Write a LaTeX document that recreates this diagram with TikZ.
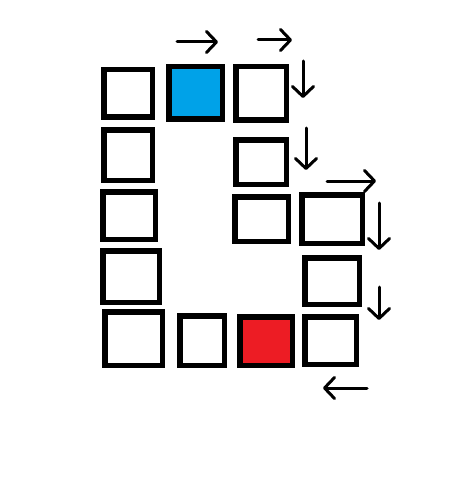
\documentclass[tikz,border=0pt]{standalone}
\usetikzlibrary{arrows.meta}
\definecolor{paintblue}{HTML}{00A2E8}
\definecolor{paintred}{HTML}{ED1C24}
\begin{document}
\begin{tikzpicture}[x=1pt,y=1pt,
  cell/.style={draw=black,line width=5.5pt,inner sep=0pt,fill=white},
  hand/.style={line width=3pt,line cap=round,line join=round,
    -{Straight Barb[length=10pt,width=21pt,line cap=round,line join=round]}}]
\useasboundingbox (0,0) rectangle (474,-484);
\fill[white] (0,0) rectangle (474,-484);
% left column
\node[cell,minimum width=48.5pt,minimum height=47.5pt] (a1) at (128,-93.5) {};
\node[cell,minimum width=48.5pt,minimum height=50.5pt] (a2) at (128,-155) {};
\node[cell,minimum width=52.5pt,minimum height=47.5pt] (a3) at (129,-215.5) {};
\node[cell,minimum width=56.5pt,minimum height=51.5pt] (a4) at (131,-276.5) {};
\node[cell,minimum width=57.5pt,minimum height=53.5pt] (a5) at (133.5,-338.5) {};
% second column
\node[cell,fill=paintblue,minimum width=53.5pt,minimum height=52.5pt] (start) at (195.5,-93) {};
\node[cell,minimum width=44.5pt,minimum height=49.5pt] (b5) at (202,-340.5) {};
% third column
\node[cell,minimum width=50.5pt,minimum height=53.5pt] (c1) at (261,-93.5) {};
\node[cell,minimum width=50.5pt,minimum height=44.5pt] (c2) at (261,-162) {};
\node[cell,minimum width=53.5pt,minimum height=44.5pt] (c3) at (261.5,-219) {};
\node[cell,fill=paintred,minimum width=52.5pt,minimum height=48.5pt] (goal) at (266,-341) {};
% fourth column
\node[cell,minimum width=60.5pt,minimum height=48.5pt] (d3) at (332,-219) {};
\node[cell,minimum width=54.5pt,minimum height=46.5pt] (d4) at (332,-281) {};
\node[cell,minimum width=51.5pt,minimum height=47.5pt] (d5) at (330.5,-340.5) {};
% arrow end points
\coordinate (p1s) at (177,-42);  \coordinate (p1e) at (218,-42);
\coordinate (p2s) at (258,-40);  \coordinate (p2e) at (292,-40);
\coordinate (p3s) at (303,-61);  \coordinate (p3e) at (303,-98);
\coordinate (p4s) at (306,-128); \coordinate (p4e) at (306,-170);
\coordinate (p5s) at (327,-181); \coordinate (p5e) at (376,-181);
\coordinate (p6s) at (379,-203); \coordinate (p6e) at (379,-250);
\coordinate (p7s) at (379,-287); \coordinate (p7e) at (379,-320);
\coordinate (p8s) at (367,-388); \coordinate (p8e) at (323,-388);
\draw[hand] (p1s) -- (p1e);
\draw[hand] (p2s) -- (p2e);
\draw[hand] (p3s) -- (p3e);
\draw[hand] (p4s) -- (p4e);
\draw[hand] (p5s) -- (p5e);
\draw[hand] (p6s) -- (p6e);
\draw[hand] (p7s) -- (p7e);
\draw[hand] (p8s) -- (p8e);
\end{tikzpicture}
\end{document}
